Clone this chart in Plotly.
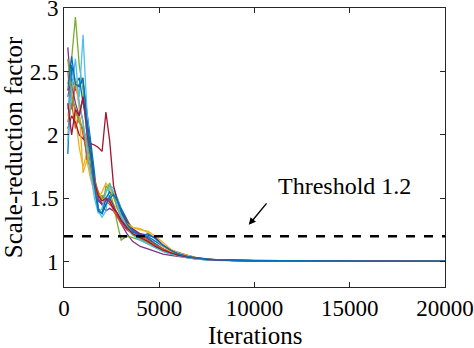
import plotly.graph_objects as go

iterations = [200, 400, 600, 800, 1000, 1200, 1400, 1600, 1800, 2000, 2200, 2400, 2600, 2800,
              3000, 3300, 3600, 4000, 4400, 4800, 5200, 5600, 6000, 6500, 7000, 7500, 8000,
              9000, 10000, 12000, 14000, 16000, 18000, 20000]

chain_01 = [2.30, 2.45, 2.35, 2.40, 2.42, 2.20, 1.95, 1.70, 1.42, 1.38, 1.45, 1.52, 1.54, 1.50,
            1.42, 1.33, 1.25, 1.21, 1.20, 1.16, 1.12, 1.09, 1.07, 1.05, 1.03, 1.02, 1.015,
            1.010, 1.008, 1.006, 1.005, 1.004, 1.003, 1.003]
chain_02 = [2.10, 2.25, 2.05, 2.15, 2.00, 1.85, 1.70, 1.60, 1.50, 1.52, 1.48, 1.45, 1.42, 1.38,
            1.33, 1.27, 1.22, 1.18, 1.15, 1.12, 1.09, 1.07, 1.05, 1.035, 1.025, 1.018, 1.012,
            1.009, 1.007, 1.006, 1.005, 1.004, 1.004, 1.003]
chain_03 = [2.00, 2.35, 2.15, 1.90, 1.75, 1.85, 1.70, 1.58, 1.55, 1.50, 1.47, 1.50, 1.45, 1.42,
            1.38, 1.32, 1.27, 1.25, 1.24, 1.20, 1.15, 1.10, 1.07, 1.05, 1.03, 1.02, 1.014,
            1.010, 1.008, 1.006, 1.005, 1.004, 1.004, 1.003]
chain_04 = [2.69, 2.30, 2.20, 2.10, 2.05, 1.95, 1.80, 1.55, 1.48, 1.45, 1.40, 1.42, 1.40, 1.36,
            1.30, 1.22, 1.16, 1.12, 1.10, 1.08, 1.06, 1.05, 1.04, 1.03, 1.02, 1.015, 1.011,
            1.008, 1.007, 1.005, 1.005, 1.004, 1.003, 1.003]
chain_05 = [2.40, 2.60, 2.93, 2.55, 2.35, 2.00, 1.80, 1.60, 1.40, 1.38, 1.60, 1.55, 1.45, 1.30,
            1.17, 1.20, 1.19, 1.17, 1.14, 1.11, 1.08, 1.06, 1.045, 1.03, 1.02, 1.015, 1.011,
            1.008, 1.007, 1.006, 1.005, 1.004, 1.003, 1.003]
chain_06 = [2.20, 2.50, 2.40, 2.30, 2.79, 2.20, 1.80, 1.55, 1.40, 1.35, 1.40, 1.60, 1.58, 1.50,
            1.40, 1.30, 1.22, 1.18, 1.15, 1.12, 1.09, 1.07, 1.05, 1.035, 1.025, 1.018, 1.013,
            1.009, 1.007, 1.006, 1.005, 1.004, 1.004, 1.003]
chain_07 = [2.05, 2.15, 2.10, 2.00, 1.97, 1.95, 1.93, 1.92, 1.90, 1.87, 2.18, 1.95, 1.60, 1.48,
            1.40, 1.32, 1.26, 1.22, 1.18, 1.14, 1.10, 1.07, 1.05, 1.035, 1.025, 1.018, 1.013,
            1.009, 1.007, 1.006, 1.005, 1.004, 1.003, 1.003]
chain_08 = [1.85, 2.55, 2.40, 2.45, 2.25, 2.10, 1.90, 1.65, 1.40, 1.38, 1.50, 1.55, 1.52, 1.45,
            1.38, 1.30, 1.25, 1.21, 1.19, 1.14, 1.10, 1.07, 1.05, 1.035, 1.024, 1.017, 1.012,
            1.009, 1.007, 1.006, 1.005, 1.004, 1.003, 1.003]
chain_09 = [2.50, 2.20, 2.40, 2.25, 2.10, 1.80, 1.75, 1.65, 1.55, 1.45, 1.50, 1.48, 1.40, 1.35,
            1.30, 1.25, 1.22, 1.20, 1.17, 1.13, 1.10, 1.08, 1.06, 1.04, 1.028, 1.02, 1.014,
            1.010, 1.008, 1.006, 1.005, 1.004, 1.004, 1.003]
chain_10 = [2.15, 2.30, 2.45, 2.20, 1.70, 1.80, 1.65, 1.55, 1.50, 1.55, 1.62, 1.58, 1.50, 1.43,
            1.36, 1.30, 1.27, 1.26, 1.23, 1.18, 1.12, 1.08, 1.06, 1.04, 1.028, 1.02, 1.014,
            1.010, 1.008, 1.006, 1.005, 1.004, 1.004, 1.003]
chain_11 = [2.35, 2.40, 2.25, 2.15, 2.30, 2.00, 1.75, 1.60, 1.50, 1.45, 1.48, 1.50, 1.44, 1.38,
            1.32, 1.26, 1.23, 1.22, 1.21, 1.19, 1.13, 1.09, 1.06, 1.04, 1.027, 1.019, 1.013,
            1.009, 1.007, 1.006, 1.005, 1.004, 1.003, 1.003]
chain_12 = [2.60, 2.30, 2.20, 2.10, 2.05, 1.95, 1.78, 1.60, 1.52, 1.50, 1.55, 1.62, 1.52, 1.42,
            1.35, 1.28, 1.22, 1.18, 1.15, 1.12, 1.09, 1.07, 1.05, 1.035, 1.025, 1.018, 1.013,
            1.009, 1.007, 1.006, 1.005, 1.004, 1.004, 1.003]
chain_13 = [1.95, 2.35, 2.60, 2.25, 2.10, 1.90, 1.72, 1.50, 1.38, 1.42, 1.55, 1.60, 1.55, 1.46,
            1.36, 1.27, 1.21, 1.17, 1.14, 1.11, 1.08, 1.06, 1.045, 1.03, 1.02, 1.015, 1.011,
            1.008, 1.007, 1.005, 1.005, 1.004, 1.003, 1.003]
chain_14 = [2.25, 2.00, 2.20, 2.15, 2.30, 2.10, 1.85, 1.62, 1.52, 1.48, 1.50, 1.47, 1.42, 1.38,
            1.33, 1.27, 1.22, 1.19, 1.16, 1.12, 1.09, 1.07, 1.05, 1.035, 1.025, 1.018, 1.013,
            1.009, 1.007, 1.006, 1.005, 1.004, 1.004, 1.003]
chain_15 = [2.35, 2.62, 2.40, 2.38, 2.45, 2.10, 1.85, 1.60, 1.40, 1.38, 1.45, 1.50, 1.53, 1.48,
            1.40, 1.30, 1.24, 1.20, 1.22, 1.18, 1.13, 1.09, 1.06, 1.04, 1.028, 1.02, 1.014,
            1.010, 1.008, 1.006, 1.005, 1.004, 1.004, 1.003]

chains = [chain_01, chain_02, chain_03, chain_04, chain_05, chain_06, chain_07, chain_08,
          chain_09, chain_10, chain_11, chain_12, chain_13, chain_14, chain_15]

threshold = 1.2
x_ticks = [0, 5000, 10000, 15000, 20000]
y_ticks = [1, 1.5, 2, 2.5, 3]
y_tick_labels = ["1", "1.5", "2", "2.5", "3"]

colors = ["#0072BD", "#D95319", "#EDB120", "#7E2F8E", "#77AC30", "#4DBEEE", "#A2142F"]

fig = go.Figure()
for i, c in enumerate(chains):
    fig.add_trace(go.Scatter(x=iterations, y=c, mode="lines",
                             line=dict(color=colors[i % len(colors)], width=1.3),
                             showlegend=False, hoverinfo="skip"))

fig.add_trace(go.Scatter(x=[0, 20000], y=[threshold, threshold], mode="lines",
                         line=dict(color="black", width=2.5, dash="dash"),
                         showlegend=False, hoverinfo="skip"))

font_family = "Liberation Serif, Times New Roman, serif"
axis_common = dict(showline=True, linecolor="#262626", linewidth=1, mirror="ticks",
                   ticks="inside", ticklen=5, tickcolor="#262626", showgrid=False,
                   zeroline=False, automargin=False, ticklabeloverflow="allow",
                   tickfont=dict(family=font_family, size=23, color="black"))

fig.update_layout(
    width=474, height=348,
    margin=dict(l=64, r=29, t=8, b=61),
    paper_bgcolor="white", plot_bgcolor="white",
    xaxis=dict(range=[0, 20000], tickvals=x_ticks, ticktext=[str(v) for v in x_ticks],
               **axis_common),
    yaxis=dict(range=[0.8, 3.0005], tickvals=y_ticks, ticktext=y_tick_labels,
               title=dict(text="Scale-reduction factor",
                          font=dict(family=font_family, size=25, color="black"), standoff=8),
               **axis_common),
    annotations=[
        dict(x=0.5, y=-0.175, xref="paper", yref="paper", text="Iterations", showarrow=False,
             xanchor="center", yanchor="middle",
             font=dict(family=font_family, size=25, color="black")),
        dict(x=14700, y=1.6, xref="x", yref="y", text="Threshold 1.2", showarrow=False,
             font=dict(family=font_family, size=24, color="black")),
        dict(x=9700, y=1.29, xref="x", yref="y", text="", showarrow=True,
             ax=19, ay=-23, arrowhead=2, arrowsize=1, arrowwidth=1.4, arrowcolor="black"),
    ],
)

fig.write_html("out.html")
